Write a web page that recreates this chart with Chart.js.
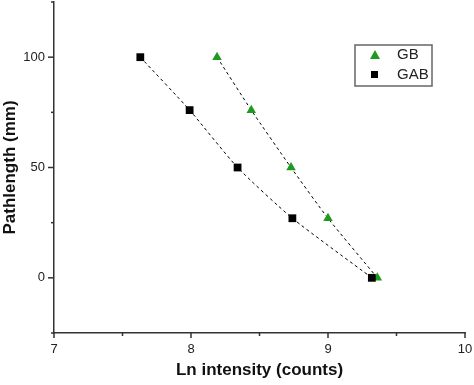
<!DOCTYPE html>
<html><head><meta charset="utf-8">
<script src="https://cdn.jsdelivr.net/npm/chart.js@4/dist/chart.umd.min.js"></script>
<style>html,body{margin:0;padding:0;background:#fff}#wrap{width:474px;height:385px;position:relative}</style>
</head><body><div id="wrap"><canvas id="c" width="474" height="385"></canvas></div>
<script>
const pathlength = [100, 76, 50, 27, 0];
const intensityGB = [8.19, 8.44, 8.73, 9.00, 9.36];
const intensityGAB = [7.63, 7.99, 8.34, 8.74, 9.32];
const xTickLabels = [7, 8, 9, 10];
const yTickLabels = [0, 50, 100];
const seriesNames = ['GB', 'GAB'];

const FONT = "'Liberation Sans', Arial, sans-serif";
const AX = '#333';
const GREEN = '#1f9a1f';

function pts(xs){ return xs.map((x,i)=>({x:x, y:pathlength[i]})); }

const tickPlugin = {
  id:'ticksAndLegend',
  afterDraw(chart){
    const ctx = chart.ctx, xs = chart.scales.x, ys = chart.scales.y, a = chart.chartArea;
    ctx.save();
    ctx.strokeStyle = AX; ctx.lineWidth = 1.5;
    for (let v = 7; v <= 10.001; v += 0.5){
      const p = xs.getPixelForValue(v);
      const major = xTickLabels.includes(Math.round(v*10)/10);
      ctx.beginPath(); ctx.moveTo(p, a.bottom); ctx.lineTo(p, a.bottom + (major?5:3)); ctx.stroke();
    }
    for (let v = -25; v <= 125; v += 25){
      const p = ys.getPixelForValue(v);
      const major = yTickLabels.includes(v);
      ctx.beginPath(); ctx.moveTo(a.left, p); ctx.lineTo(a.left - (major?6:3), p); ctx.stroke();
    }
    // legend
    const lx = 355, ly = 45, lw = 77, lh = 41;
    ctx.strokeStyle = '#666'; ctx.lineWidth = 1.5;
    ctx.strokeRect(lx, ly, lw, lh);
    ctx.fillStyle = GREEN;
    const tx = 375, ty = 55;
    ctx.beginPath(); ctx.moveTo(tx, ty-5); ctx.lineTo(tx+5, ty+4); ctx.lineTo(tx-5, ty+4); ctx.closePath(); ctx.fill();
    ctx.fillStyle = '#000';
    ctx.fillRect(371, 71, 7, 7);
    ctx.fillStyle = '#222';
    ctx.font = '15px ' + FONT;
    ctx.textBaseline = 'middle'; ctx.textAlign = 'left';
    ctx.fillText(seriesNames[0], 397, 55);
    ctx.fillText(seriesNames[1], 397, 75);
    ctx.restore();
  }
};

new Chart(document.getElementById('c'), {
  type:'scatter',
  data:{datasets:[
    {label:seriesNames[1], data:pts(intensityGAB), order:0, showLine:true,
     borderColor:'#000', borderWidth:1, borderDash:[3,3], tension:0.2,
     pointStyle:'rect', pointRadius:5.5, pointBackgroundColor:'#000', pointBorderWidth:0},
    {label:seriesNames[0], data:pts(intensityGB), order:1, showLine:true,
     borderColor:'#000', borderWidth:1, borderDash:[3,3], tension:0.2,
     pointStyle:'triangle', pointRadius:5.5, pointBackgroundColor:GREEN, pointBorderWidth:0}
  ]},
  options:{
    responsive:false, animation:false, devicePixelRatio:1,
    layout:{autoPadding:false, padding:{top:2, right:9, left:0, bottom:0}},
    plugins:{legend:{display:false}, tooltip:{enabled:false}},
    scales:{
      x:{type:'linear', min:7, max:10,
        afterFit(s){ s.height = 52; s.paddingLeft = 0; s.paddingRight = 0; },
        grid:{display:false, drawTicks:false},
        border:{display:true, color:AX, width:1.5},
        ticks:{stepSize:1, padding:9, color:'#222', font:{family:FONT, size:13},
          callback:(v)=> xTickLabels.includes(v) ? String(v) : ''},
        title:{display:true, text:'Ln intensity (counts)', color:'#111', padding:{top:6}, font:{family:FONT, size:17, weight:'bold'}}
      },
      y:{type:'linear', min:-25, max:125,
        afterFit(s){ s.width = 54; s.paddingTop = 0; s.paddingBottom = 0; },
        grid:{display:false, drawTicks:false},
        border:{display:true, color:AX, width:1.5},
        ticks:{stepSize:25, padding:9, color:'#222', font:{family:FONT, size:13},
          callback:(v)=> yTickLabels.includes(v) ? String(v) : ''},
        title:{display:true, text:'Pathlength (mm)', color:'#111', padding:{top:0, bottom:0}, font:{family:FONT, size:17, weight:'bold'}}
      }
    }
  },
  plugins:[tickPlugin]
});
</script></body></html>
